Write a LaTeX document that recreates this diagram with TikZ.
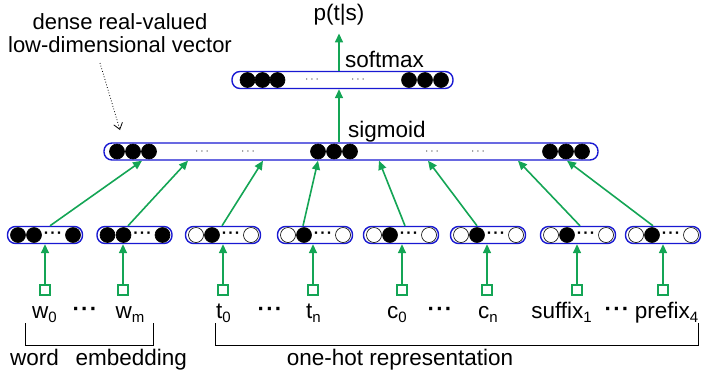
\documentclass[tikz,border=0pt]{standalone}
\usepackage{fontspec}
\setmainfont{Liberation Sans}
\usetikzlibrary{arrows.meta,calc}
\definecolor{arrgreen}{RGB}{20,165,85}
\definecolor{boxblue}{RGB}{25,25,210}
\newcommand\sbs[1]{\raisebox{-0.22em}{\fontsize{15}{15}\selectfont #1}}
\newcommand\bdd{{\bfseries ·\kern1.2pt·\kern1.2pt·}}
\begin{document}
\begin{tikzpicture}[x=1pt,y=-1pt,
  font=\fontsize{22.5}{20}\selectfont,
  layer/.style={draw=boxblue, line width=1.4pt, rounded corners=8pt, inner sep=0pt, fill=white},
  bc/.style={circle, draw=black, fill=black, inner sep=0pt, minimum size=15pt, line width=0.6pt},
  wc/.style={bc, fill=white},
  ldots/.style={inner sep=0pt, font=\fontsize{12}{12}\selectfont, text=black!75},
  bdots/.style={inner sep=0pt, font=\fontsize{16}{16}\selectfont},
  arr/.style={draw=arrgreen, line width=1.6pt, -{Triangle[length=9pt,width=8pt]}},
  inp/.style={draw=arrgreen, line width=1.4pt, minimum size=10pt, inner sep=0pt},
  lbl/.style={inner sep=0pt, anchor=base},
  bracket/.style={draw=black, line width=0.7pt}
]
\useasboundingbox (0,0) rectangle (703,373);

% ---------- top (softmax) layer ----------
\node[layer, minimum width=221pt, minimum height=17pt] (top) at (342.5,80) {};
\foreach \x [count=\i] in {247.5,262.5,277.5,409,425,441}
  \node[bc] (tc\i) at (\x,80) {};
\node[ldots] (td1) at (312,80) {$\cdots$};
\node[ldots] (td2) at (358,80) {$\cdots$};

% ---------- middle (sigmoid) layer ----------
\node[layer, minimum width=494pt, minimum height=17pt] (mid) at (351,151.5) {};
\foreach \x [count=\i] in {117,133,149,318,334,350,550,566,582}
  \node[bc] (mc\i) at (\x,151.5) {};
\foreach \x [count=\i] in {202,248,432,478}
  \node[ldots] (md\i) at (\x,151.5) {$\cdots$};

% ---------- labels on top ----------
\node[lbl, inner ysep=8pt] (pts) at (339,20.5) {p(t|s)};
\node[lbl, anchor=base west] (soft) at (345,67) {softmax};
\node[lbl, anchor=base west] (sigm) at (348,137) {sigmoid};
\node[inner sep=0pt, align=center, anchor=south, font=\fontsize{22}{23.5}\selectfont] (dense) at (120,53)
  {dense real-valued\\low-dimensional vector};

\draw[arr] (mid.north -| pts.south) -- (top.south -| pts.south);
\draw[arr] (top.north -| pts.south) -- (pts.south);

\coordinate (dtip) at (120,130);
\draw[black, line width=0.8pt, dotted, -{Straight Barb[length=6pt,width=9pt]}]
  ($(dense.south)+(-20,10)$) -- (dtip);

% ---------- bottom boxes ----------
\foreach \n/\x/\f in {1/45/bc,2/134.5/bc,3/223/wc,4/315/wc,5/401/wc,6/488/wc,7/578/wc,8/663/wc}{
  \node[layer, minimum width=75pt, minimum height=17pt] (b\n) at (\x,235) {};
  \node[\f] (b\n a) at ($(b\n)+(-27,0)$) {};
  \node[bc] (b\n b) at ($(b\n)+(-11,0)$) {};
  \node[bdots] (b\n d) at ($(b\n)+(8,0)$) {\bdd};
  \node[\f] (b\n c) at ($(b\n)+(28,0)$) {};
}

% ---------- input squares ----------
\foreach \n/\x in {1/45,2/123,3/223,4/313,5/402,6/487,7/577,8/663}{
  \node[inp] (s\n) at (\x,290) {};
  \draw[arr] (s\n.north) -- (s\n.north |- b\n.south);
}

% ---------- arrows bottom -> middle ----------
\foreach \n/\sx/\ex in {1/50/142,2/128/188,3/222/263,4/303/318,5/405/379,6/477/428,7/580/518,8/653/567}{
  \draw[arr] (b\n.north -| \sx,0) -- (mid.south -| \ex,0);
}

% ---------- input labels ----------
\node[lbl] (w0) at (44.5,318) {w\sbs{0}};
\node[lbl] (wd) at (85,316) {\bdd};
\node[lbl] (wm) at (130,318) {w\sbs{m}};
\node[lbl] (t0) at (223.5,318) {t\sbs{0}};
\node[lbl] (tdd) at (270,316) {\bdd};
\node[lbl] (tn) at (313.5,318) {t\sbs{n}};
\node[lbl] (c0) at (397,318) {c\sbs{0}};
\node[lbl] (cd) at (440,316) {\bdd};
\node[lbl] (cn) at (488,318) {c\sbs{n}};
\node[lbl] (suf) at (561.5,318) {suffix\sbs{1}};
\node[lbl] (sd) at (617,316) {\bdd};
\node[lbl] (pre) at (666.5,318) {prefix\sbs{4}};

% ---------- brackets ----------
\draw[bracket] (25,323) -- (25,345) -- (153,345) -- (153,323);
\draw[bracket] (215,323) -- (215,345) -- (698,345) -- (698,323);
\node[lbl] (we) at (98.5,365) {word\hspace{0.75em}embedding};
\node[lbl] (oh) at (400,365) {one-hot representation};
\end{tikzpicture}
\end{document}
